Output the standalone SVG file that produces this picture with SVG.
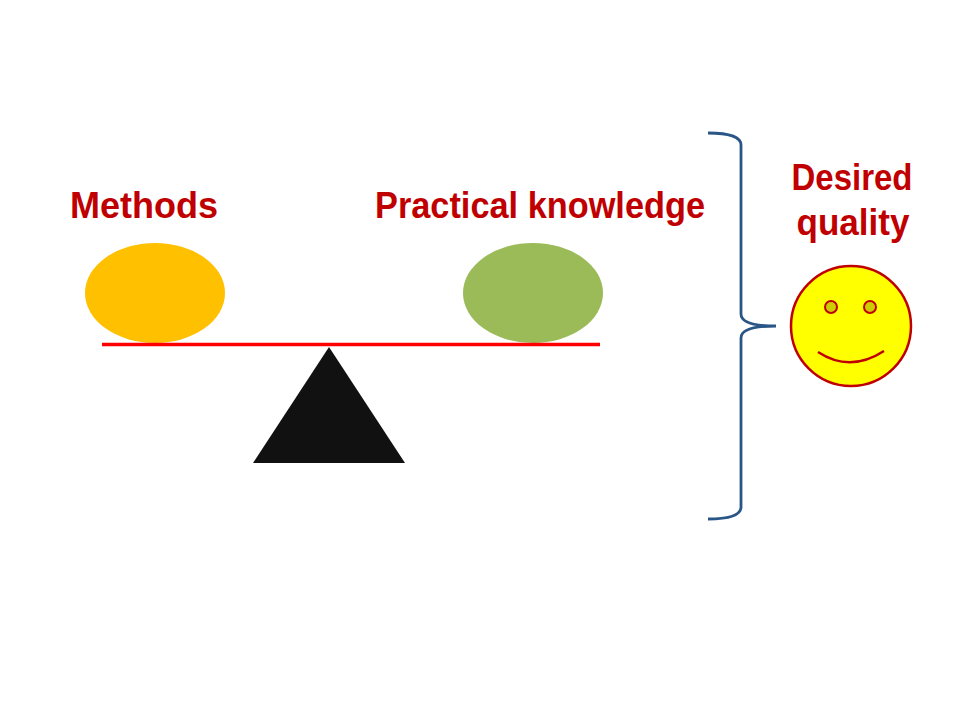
<svg xmlns="http://www.w3.org/2000/svg" width="960" height="720" viewBox="0 0 960 720">
<style>
.lbl{font-family:"Liberation Sans",Arial,sans-serif;font-weight:bold;font-size:36px;fill:#C00000}
</style>
<rect width="960" height="720" fill="#fff"/>
<g id="methods">
<ellipse cx="155" cy="293" rx="70" ry="50" fill="#FFC000"/>
<text class="lbl" x="70" y="218" textLength="148" lengthAdjust="spacingAndGlyphs">Methods</text>
</g>
<g id="practical">
<ellipse cx="533" cy="293" rx="70" ry="50" fill="#9BBB59"/>
<text class="lbl" x="375" y="218" textLength="330" lengthAdjust="spacingAndGlyphs">Practical knowledge</text>
</g>
<g id="scale">
<line x1="102" y1="344.5" x2="600" y2="344.5" stroke="#FF0000" stroke-width="3.5"/>
<polygon points="329,347 405,463 253,463" fill="#111"/>
</g>
<g id="connectors">
<path d="M708,133 Q741,133 741,145 L741,314 Q741,326 776,326 Q741,326 741,338 L741,507 Q741,519 708,519" fill="none" stroke="#2A5587" stroke-width="2.8"/>
</g>
<g id="quality">
<text class="lbl" x="852" y="190" text-anchor="middle" textLength="121" lengthAdjust="spacingAndGlyphs">Desired</text>
<text class="lbl" x="853" y="235" text-anchor="middle" textLength="113" lengthAdjust="spacingAndGlyphs">quality</text>
<circle cx="851" cy="326" r="60" fill="#FFFF00" stroke="#C00000" stroke-width="2.5"/>
<circle cx="831" cy="307" r="6" fill="#CCCC00" stroke="#C00000" stroke-width="2"/>
<circle cx="870" cy="307" r="6" fill="#CCCC00" stroke="#C00000" stroke-width="2"/>
<path d="M818,352 Q850,373 884,351" fill="none" stroke="#C00000" stroke-width="2.5"/>
</g>
</svg>
